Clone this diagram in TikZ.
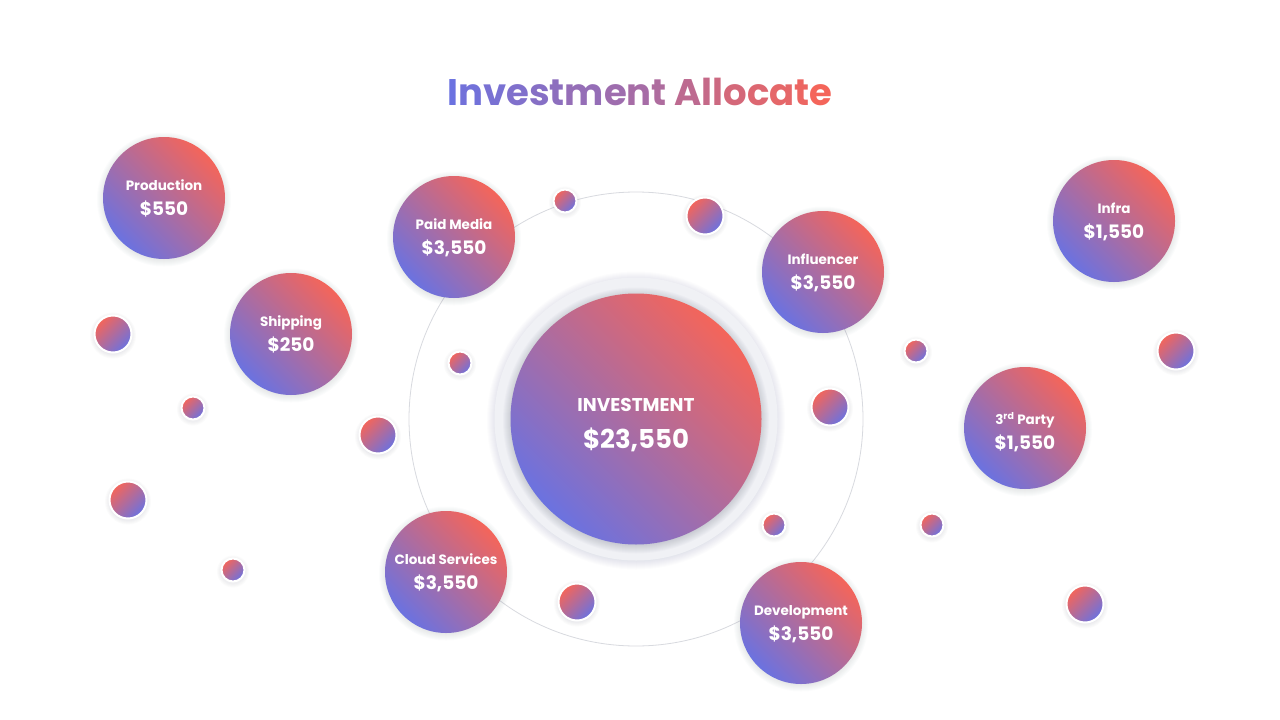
\documentclass[tikz,border=0pt]{standalone}
\usepackage{fontspec}
\setmainfont{Poppins}
\definecolor{cred}{HTML}{F4655A}
\definecolor{cblue}{HTML}{6B72E0}
\definecolor{orbitc}{HTML}{D8DADF}
\definecolor{ringc}{HTML}{F0F1F5}
\definecolor{shc}{HTML}{3A4060}
\newcommand{\gl}[2]{\textcolor{cred!#1!cblue}{#2}}
% soft shadow: x, y, radius, steps, opacity per step
\newcommand{\shd}[5]{\foreach \k in {0,...,#4}{\fill[shc, opacity=#5] (#1,#2+1.5) circle [radius={(#3+\k)*1pt}];}}
\tikzset{
  bubble/.style={circle, minimum size=122pt, inner sep=0pt, top color=cred, bottom color=cblue,
    shading angle=-45, text=white, align=center},
  dotbase/.style={circle, inner sep=0pt, draw=white, line width=2pt, top color=cred, middle color=cred!70!cblue,
    bottom color=cblue, shading angle=45},
  dotbig/.style={dotbase, minimum size=37pt},
  dotsmall/.style={dotbase, minimum size=23pt},
  ctxt/.style={text=white, font=\bfseries},
}
\newcommand{\bl}[3][12pt]{\raisebox{0pt}[#1][0pt]{\fontsize{13.5}{16}\selectfont\bfseries #2}\\[9pt]{\fontsize{18.5}{22}\selectfont\bfseries #3}}
\begin{document}
\begin{tikzpicture}[x=1pt,y=-1pt]
\useasboundingbox[fill=white] (0,0) rectangle (1280,720);

% title
\node[font=\fontsize{37}{42}\selectfont\bfseries] (title) at (640,92) {%
\gl{0}{I}\gl{5}{n}\gl{10}{v}\gl{15}{e}\gl{20}{s}\gl{25}{t}\gl{31}{m}\gl{37}{e}\gl{43}{n}\gl{49}{t} \gl{60}{A}\gl{66}{l}\gl{71}{l}\gl{77}{o}\gl{83}{c}\gl{89}{a}\gl{94}{t}\gl{100}{e}};

% orbit
\node[circle, draw=orbitc, line width=0.8pt, minimum size=454pt, inner sep=0pt] (orbit) at (636,419) {};

% shadows
\shd{636}{419}{141}{8}{0.012}
\foreach \x/\y in {164/198, 291/334, 454/237, 823/272, 1114/221, 1025/428, 446/572, 801/623}{\shd{\x}{\y}{60}{7}{0.014}}
\foreach \x/\y in {705/216, 113/334, 378/435, 830/407, 1176/351, 128/500, 577/602, 1085/604}{\shd{\x}{\y}{19}{4}{0.02}}
\foreach \x/\y in {565/201, 460/363, 193/408, 916/351, 774/525, 932/525, 233/570}{\shd{\x}{\y}{13}{3}{0.02}}

% central disk
\node[circle, minimum size=283pt, inner sep=0pt, fill=ringc] (ring) at (636,419) {};
\shd{636}{419}{124}{9}{0.022}
\node[circle, minimum size=251pt, inner sep=0pt, top color=cred, bottom color=cblue, shading angle=-45] (inv) at (636,419) {};
\node[ctxt, font=\fontsize{18.5}{22}\selectfont\bfseries] (invlab) at (636,405) {INVESTMENT};
\node[ctxt, font=\fontsize{26}{30}\selectfont\bfseries] (invval) at (636,440) {\$23,550};

% big bubbles
\node[bubble] (prod) at (164,198) {\bl{Production}{\$550}};
\node[bubble] (ship) at (291,334) {\bl{Shipping}{\$250}};
\node[bubble] (paid) at (454,237) {\bl{Paid Media}{\$3,550}};
\node[bubble] (infl) at (823,272) {\bl{Influencer}{\$3,550}};
\node[bubble] (infra) at (1114,221) {\bl{Infra}{\$1,550}};
\node[bubble] (third) at (1025,428) {\bl[21pt]{3\textsuperscript{rd} Party}{\$1,550}};
\node[bubble] (cloud) at (446,572) {\bl{Cloud Services}{\$3,550}};
\node[bubble] (dev) at (801,623) {\bl{Development}{\$3,550}};

% small dots
\node[dotsmall] (d1) at (565,201) {};
\node[dotbig] (d2) at (705,216) {};
\node[dotbig] (d3) at (113,334) {};
\node[dotsmall] (d4) at (460,363) {};
\node[dotsmall] (d5) at (193,408) {};
\node[dotbig] (d6) at (378,435) {};
\node[dotbig] (d7) at (830,407) {};
\node[dotsmall] (d8) at (916,351) {};
\node[dotbig] (d9) at (1176,351) {};
\node[dotbig] (d10) at (128,500) {};
\node[dotsmall] (d11) at (774,525) {};
\node[dotsmall] (d12) at (932,525) {};
\node[dotsmall] (d13) at (233,570) {};
\node[dotbig] (d14) at (577,602) {};
\node[dotbig] (d15) at (1085,604) {};
\end{tikzpicture}
\end{document}
